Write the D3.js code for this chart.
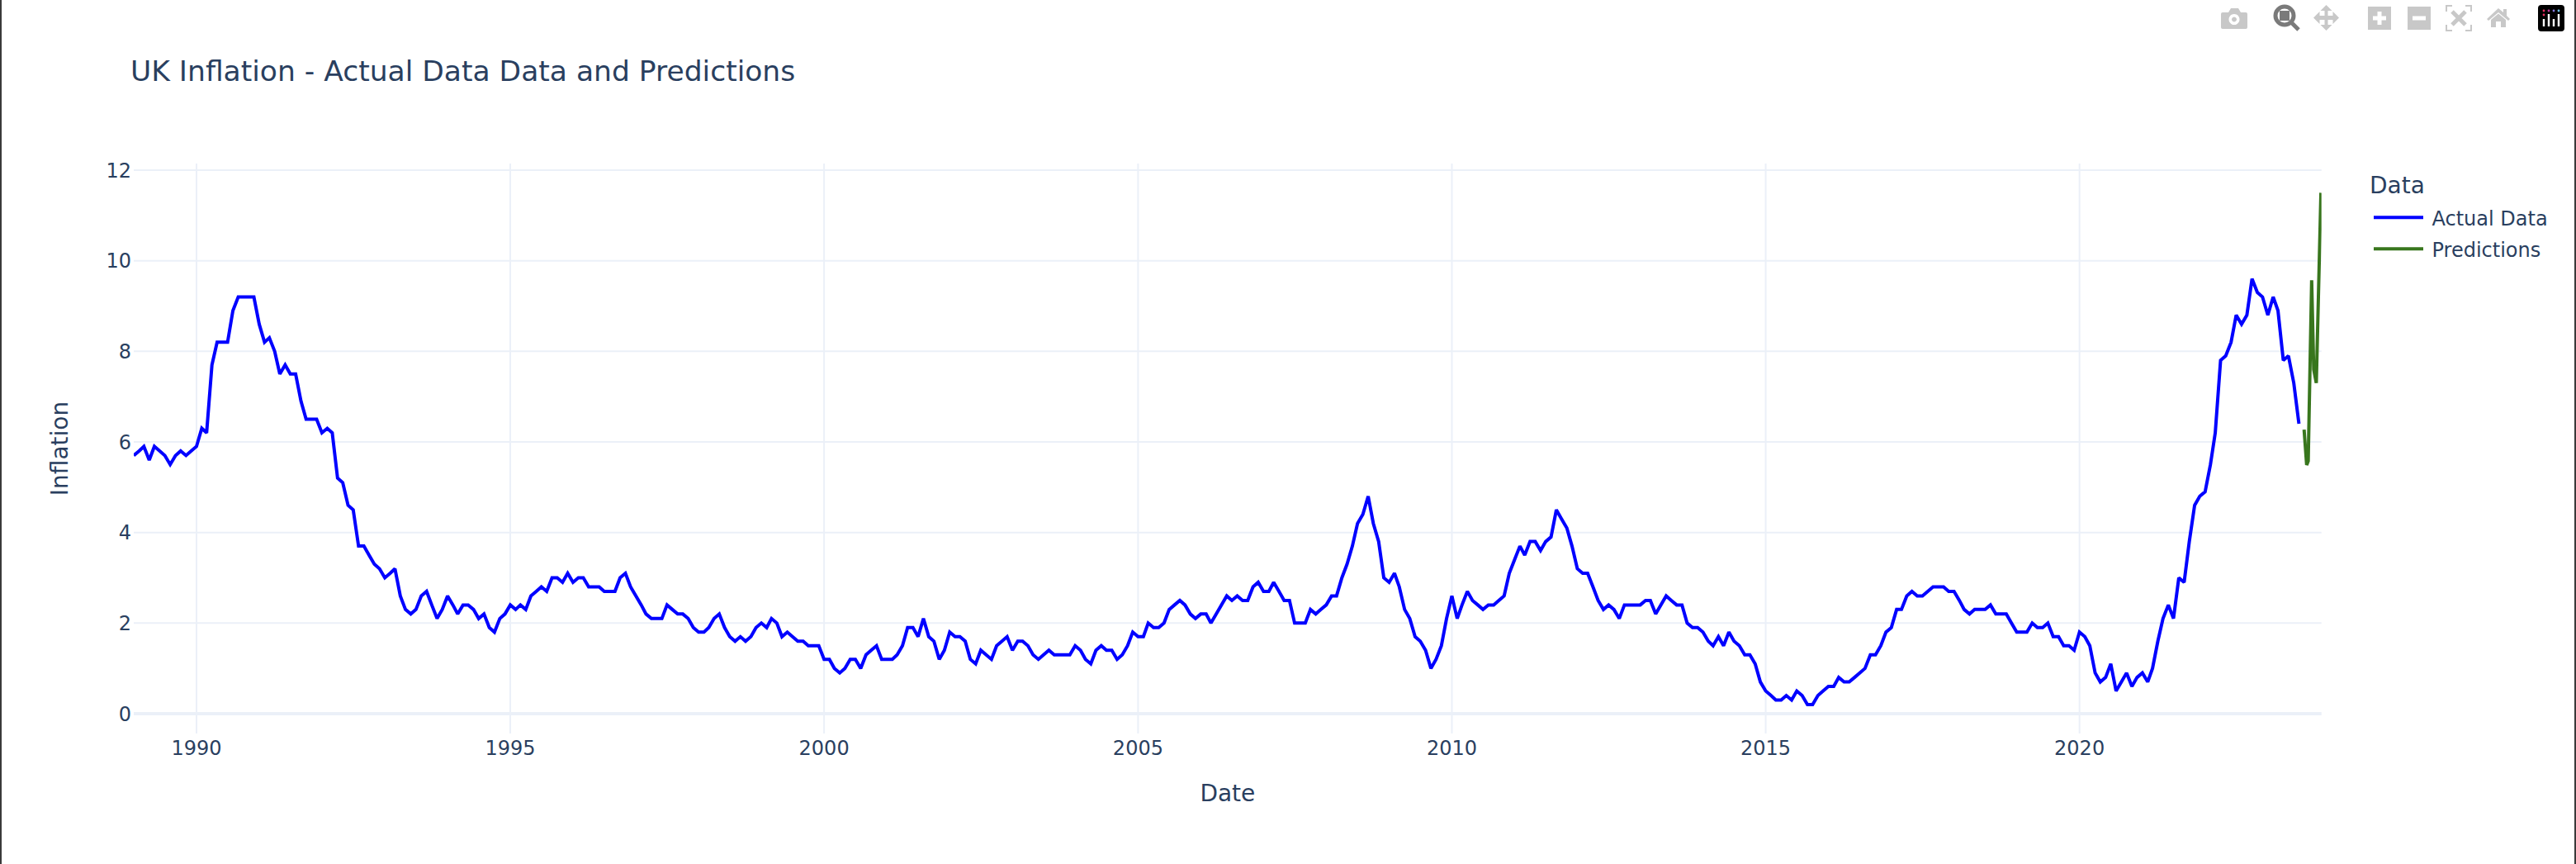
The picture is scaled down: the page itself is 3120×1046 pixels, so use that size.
<!DOCTYPE html>
<html><head><meta charset="utf-8">
<script src="https://cdn.jsdelivr.net/npm/d3@7"></script>
<style>html,body{margin:0;padding:0;background:#fff}svg{display:block}text{font-family:"DejaVu Sans",Verdana,sans-serif;fill:#2a3f5f}</style>
</head><body><svg id="c" width="3120" height="1046"></svg>
<script>
const chartTitle = "UK Inflation - Actual Data Data and Predictions";
const xLabel = "Date", yLabel = "Inflation", legendTitle = "Data";
const seriesNames = ["Actual Data", "Predictions"];
const seriesColors = ["#0000ff", "#38761d"];
const yTicks = [0, 2, 4, 6, 8, 10, 12];
const xTickYears = [1990, 1995, 2000, 2005, 2010, 2015, 2020];
const actualStart = "1989-01-01";
const actualValues = [
5.7,5.8,5.9,5.6,5.9,5.8,5.7,5.5,5.7,5.8,5.7,5.8,
5.9,6.3,6.2,7.7,8.2,8.2,8.2,8.9,9.2,9.2,9.2,9.2,
8.6,8.2,8.3,8.0,7.5,7.7,7.5,7.5,6.9,6.5,6.5,6.5,
6.2,6.3,6.2,5.2,5.1,4.6,4.5,3.7,3.7,3.5,3.3,3.2,
3.0,3.1,3.2,2.6,2.3,2.2,2.3,2.6,2.7,2.4,2.1,2.3,
2.6,2.4,2.2,2.4,2.4,2.3,2.1,2.2,1.9,1.8,2.1,2.2,
2.4,2.3,2.4,2.3,2.6,2.7,2.8,2.7,3.0,3.0,2.9,3.1,
2.9,3.0,3.0,2.8,2.8,2.8,2.7,2.7,2.7,3.0,3.1,2.8,
2.6,2.4,2.2,2.1,2.1,2.1,2.4,2.3,2.2,2.2,2.1,1.9,
1.8,1.8,1.9,2.1,2.2,1.9,1.7,1.6,1.7,1.6,1.7,1.9,
2.0,1.9,2.1,2.0,1.7,1.8,1.7,1.6,1.6,1.5,1.5,1.5,
1.2,1.2,1.0,0.9,1.0,1.2,1.2,1.0,1.3,1.4,1.5,1.2,
1.2,1.2,1.3,1.5,1.9,1.9,1.7,2.1,1.7,1.6,1.2,1.4,
1.8,1.7,1.7,1.6,1.2,1.1,1.4,1.3,1.2,1.5,1.6,1.7,
1.4,1.6,1.6,1.5,1.3,1.2,1.3,1.4,1.3,1.3,1.3,1.3,
1.5,1.4,1.2,1.1,1.4,1.5,1.4,1.4,1.2,1.3,1.5,1.8,
1.7,1.7,2.0,1.9,1.9,2.0,2.3,2.4,2.5,2.4,2.2,2.1,
2.2,2.2,2.0,2.2,2.4,2.6,2.5,2.6,2.5,2.5,2.8,2.9,
2.7,2.7,2.9,2.7,2.5,2.5,2.0,2.0,2.0,2.3,2.2,2.3,
2.4,2.6,2.6,3.0,3.3,3.7,4.2,4.4,4.8,4.2,3.8,3.0,
2.9,3.1,2.8,2.3,2.1,1.7,1.6,1.4,1.0,1.2,1.5,2.1,
2.6,2.1,2.4,2.7,2.5,2.4,2.3,2.4,2.4,2.5,2.6,3.1,
3.4,3.7,3.5,3.8,3.8,3.6,3.8,3.9,4.5,4.3,4.1,3.7,
3.2,3.1,3.1,2.8,2.5,2.3,2.4,2.3,2.1,2.4,2.4,2.4,
2.4,2.5,2.5,2.2,2.4,2.6,2.5,2.4,2.4,2.0,1.9,1.9,
1.8,1.6,1.5,1.7,1.5,1.8,1.6,1.5,1.3,1.3,1.1,0.7,
0.5,0.4,0.3,0.3,0.4,0.3,0.5,0.4,0.2,0.2,0.4,0.5,
0.6,0.6,0.8,0.7,0.7,0.8,0.9,1.0,1.3,1.3,1.5,1.8,
1.9,2.3,2.3,2.6,2.7,2.6,2.6,2.7,2.8,2.8,2.8,2.7,
2.7,2.5,2.3,2.2,2.3,2.3,2.3,2.4,2.2,2.2,2.2,2.0,
1.8,1.8,1.8,2.0,1.9,1.9,2.0,1.7,1.7,1.5,1.5,1.4,
1.8,1.7,1.5,0.9,0.7,0.8,1.1,0.5,0.7,0.9,0.6,0.8,
0.9,0.7,1.0,1.6,2.1,2.4,2.1,3.0,2.9,3.8,4.6,4.8,
4.9,5.5,6.2,7.8,7.9,8.2,8.8,8.6,8.8,9.6,9.3,9.2,
8.8,9.2,8.9,7.8,7.9,7.3,6.4];
const predictionDates = ["2023-07-31","2023-08-15","2023-08-24","2023-09-13","2023-09-25","2023-10-10","2023-11-06"];
const predictionValues = [6.27,5.49,5.58,9.57,7.6,7.3,11.5];
const xDomain = ["1989-01-01","2023-11-09"];
const yDomain = [-0.438,12.146];

const utc = d3.utcParse("%Y-%m-%d");
const svg = d3.select("#c");
const L=162,R=2811.7,T=198,B=888;
const x = d3.scaleUtc().domain(xDomain.map(utc)).range([L,R]);
const y = d3.scaleLinear().domain(yDomain).range([B,T]);
const grid="#ebf0f8";

svg.append("rect").attr("width",2).attr("height",1046).attr("fill","#3a3a3a");
svg.append("rect").attr("x",3118).attr("width",2).attr("height",1046).attr("fill","#3a3a3a");

// grid
svg.append("g").selectAll("line").data(xTickYears).join("line")
  .attr("x1",d=>x(new Date(Date.UTC(d,0,1)))).attr("x2",d=>x(new Date(Date.UTC(d,0,1))))
  .attr("y1",T).attr("y2",B).attr("stroke",grid).attr("stroke-width",2);
svg.append("g").selectAll("line").data(yTicks).join("line")
  .attr("x1",L).attr("x2",R).attr("y1",d=>y(d)).attr("y2",d=>y(d))
  .attr("stroke",grid).attr("stroke-width",d=>d===0?4:2);

// tick labels
svg.append("g").selectAll("text").data(xTickYears).join("text")
  .attr("x",d=>x(new Date(Date.UTC(d,0,1)))).attr("y",914).attr("text-anchor","middle")
  .attr("font-size",24).text(d=>d);
svg.append("g").selectAll("text").data(yTicks).join("text")
  .attr("x",159).attr("y",d=>y(d)+8.7).attr("text-anchor","end")
  .attr("font-size",24).text(d=>d);

// clip
svg.append("clipPath").attr("id","plot").append("rect").attr("x",L).attr("y",T).attr("width",R-L).attr("height",B-T);

const line = d3.line().x(d=>x(d[0])).y(d=>y(d[1]));
const actualDates = d3.utcMonth.range(utc(actualStart), d3.utcMonth.offset(utc(actualStart), actualValues.length));
const actual = actualValues.map((v,i)=>[actualDates[i],v]);
const pred = predictionValues.map((v,i)=>[utc(predictionDates[i]),v]);
const marks = svg.append("g").attr("clip-path","url(#plot)");
[actual,pred].forEach((s,i)=>marks.append("path").datum(s).attr("d",line)
  .attr("fill","none").attr("stroke",seriesColors[i]).attr("stroke-width",4)
  .attr("stroke-linejoin","miter").attr("stroke-miterlimit",2));

// titles
svg.append("text").attr("x",158).attr("y",98).attr("font-size",34.5).text(chartTitle);
svg.append("text").attr("x",(L+R)/2).attr("y",970).attr("text-anchor","middle").attr("font-size",28).text(xLabel);
svg.append("text").attr("transform",`translate(82,${(T+B)/2}) rotate(-90)`).attr("text-anchor","middle").attr("font-size",28).text(yLabel);

// legend
svg.append("text").attr("x",2870).attr("y",234).attr("font-size",28).text(legendTitle);
const lg = svg.append("g").selectAll("g").data(seriesNames).join("g")
  .attr("transform",(d,i)=>`translate(0,${263.3+i*38})`);
lg.append("line").attr("x1",2875).attr("x2",2935).attr("stroke",(d,i)=>seriesColors[i]).attr("stroke-width",4);
lg.append("text").attr("x",2945.5).attr("y",9.4).attr("font-size",24).text(d=>d);

// modebar icons
const bar = svg.append("g"), g1="#c8c8c8", g2="#7a7a7a";
// camera
bar.append("path").attr("fill",g1).attr("fill-rule","evenodd")
 .attr("d","M2692 15h7l3-5h9l3 5h6a2 2 0 0 1 2 2v16a2 2 0 0 1-2 2h-28a2 2 0 0 1-2-2v-16a2 2 0 0 1 2-2z M2706 17a6.5 6.5 0 1 0 .01 0z M2706 20.5a3 3 0 1 1-.01 0z");
// zoom lens
bar.append("circle").attr("cx",2767).attr("cy",19).attr("r",11).attr("fill","none").attr("stroke",g2).attr("stroke-width",5);
bar.append("rect").attr("x",2761).attr("y",13).attr("width",12).attr("height",12).attr("fill",g2);
bar.append("line").attr("x1",2775).attr("y1",27).attr("x2",2784).attr("y2",36).attr("stroke",g2).attr("stroke-width",5);
// pan
bar.append("path").attr("fill",g1).attr("d","M2817.5 6l7 7h-5v6h6v-5l7.5 7.5-7.5 7.5v-5h-6v6h5l-7 7-7-7h5v-6h-6v5l-7.500-7.500 7.500-7.500v5h6v-6h-5z");
// plus
bar.append("path").attr("fill",g1).attr("fill-rule","evenodd").attr("d","M2868 8h28v28h-28z M2879.500 14v5.500h-5.500v5h5.500v5.500h5v-5.500h5.500v-5h-5.500v-5.500z");
// minus
bar.append("path").attr("fill",g1).attr("fill-rule","evenodd").attr("d","M2916 8h28v28h-28z M2922 19.500v5h16v-5z");
// autoscale
bar.append("path").attr("fill","none").attr("stroke",g1).attr("stroke-width",2)
 .attr("d","M2963 14v-7h7 M2986 7h7v7 M2993 30v7h-7 M2970 37h-7v-7");
bar.append("path").attr("stroke",g1).attr("stroke-width",5).attr("fill","none").attr("d","M2970 14l16 16 M2986 14l-16 16");
// home
bar.append("path").attr("fill",g1).attr("d","M3026 10l6 5v-4h4v8l4 4-2 2-12-10-12 10-2-2zM3017 24l9-7.500 9 7.500v9h-6v-7h-6v7h-6z");
// logo
bar.append("rect").attr("x",3074).attr("y",6).attr("width",32).attr("height",32).attr("rx",4).attr("fill","#000");
const dotX=[3081,3087,3093,3099], dotC=["#e8305f","#c0389a","#8a7be0","#6ec6f0"];
bar.selectAll(".d").data(dotX).join("circle").attr("class","d").attr("cx",d=>d).attr("cy",13).attr("r",1.4).attr("fill",(d,i)=>dotC[i]);
bar.append("path").attr("stroke","#fff").attr("stroke-width",2.4).attr("fill","none")
 .attr("d","M3081 23v9 M3087 17v15 M3093 23v9 M3099 17v15");
bar.append("circle").attr("cx",3081).attr("cy",18).attr("r",1.4).attr("fill","#e8305f");
</script></body></html>
